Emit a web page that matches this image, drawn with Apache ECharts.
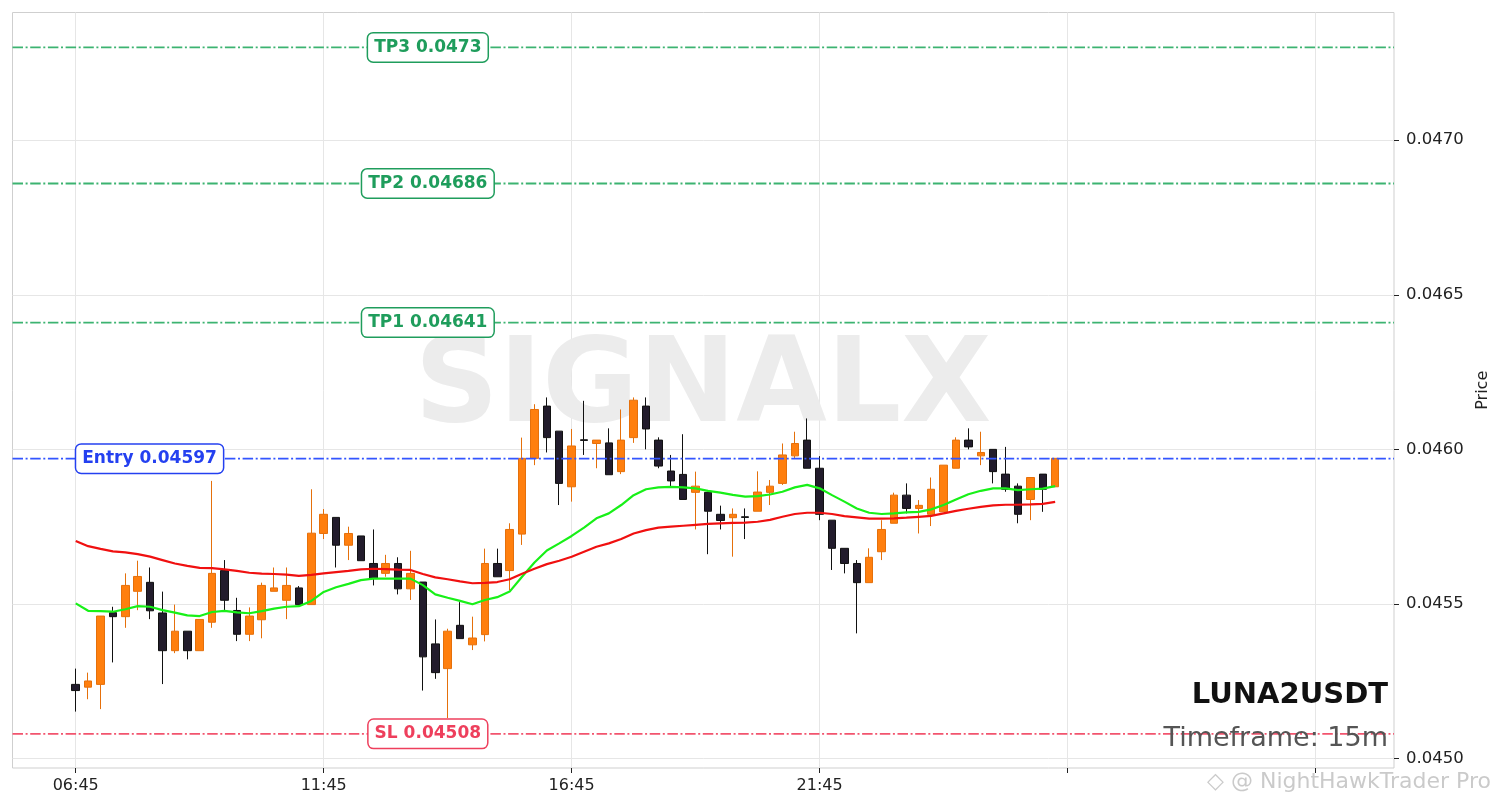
<!DOCTYPE html>
<html>
<head>
<meta charset="utf-8">
<script src="https://cdn.jsdelivr.net/npm/echarts@6/dist/echarts.min.js"></script>
<style>
  html, body { margin: 0; padding: 0; background: #fff; }
  #chart { width: 1501px; height: 808px; }
</style>
</head>
<body>
<div id="chart"></div>
<script>
// x axis: candle index, labelled every 20 bars (15m timeframe)
const timeLabels = ['06:45', '11:45', '16:45', '21:45']
const labelIndex = [0, 20, 40, 60]
const tickIndex = [0, 20, 40, 60, 80, 100]
const priceTicks = [0.0450, 0.0455, 0.0460, 0.0465, 0.0470]

// [open, high, low, close]
const candles = [
  [0.045240, 0.045291, 0.045152, 0.045220],
  [0.045231, 0.045278, 0.045192, 0.045251],
  [0.045240, 0.045461, 0.045160, 0.045461],
  [0.045472, 0.045491, 0.045311, 0.045459],
  [0.045459, 0.045599, 0.045423, 0.045560],
  [0.045541, 0.045640, 0.045480, 0.045589],
  [0.045570, 0.045618, 0.045451, 0.045478],
  [0.045471, 0.045540, 0.045241, 0.045349],
  [0.045349, 0.045498, 0.045341, 0.045412],
  [0.045412, 0.045412, 0.045321, 0.045349],
  [0.045349, 0.045450, 0.045349, 0.045450],
  [0.045441, 0.045898, 0.045423, 0.045599],
  [0.045608, 0.045642, 0.045480, 0.045512],
  [0.045479, 0.045520, 0.045380, 0.045402],
  [0.045402, 0.045489, 0.045380, 0.045461],
  [0.045449, 0.045569, 0.045389, 0.045560],
  [0.045541, 0.045618, 0.045541, 0.045552],
  [0.045512, 0.045618, 0.045451, 0.045560],
  [0.045552, 0.045558, 0.045498, 0.045498],
  [0.045498, 0.045871, 0.045498, 0.045729],
  [0.045728, 0.045807, 0.045710, 0.045790],
  [0.045780, 0.045780, 0.045618, 0.045690],
  [0.045690, 0.045750, 0.045642, 0.045728],
  [0.045720, 0.045720, 0.045640, 0.045640],
  [0.045631, 0.045741, 0.045560, 0.045582],
  [0.045599, 0.045659, 0.045588, 0.045631],
  [0.045631, 0.045651, 0.045531, 0.045549],
  [0.045549, 0.045672, 0.045513, 0.045599],
  [0.045571, 0.045571, 0.045220, 0.045329],
  [0.045371, 0.045450, 0.045258, 0.045278],
  [0.045291, 0.045420, 0.045131, 0.045412],
  [0.045431, 0.045506, 0.045388, 0.045388],
  [0.045368, 0.045459, 0.045351, 0.045390],
  [0.045401, 0.045679, 0.045379, 0.045631],
  [0.045631, 0.045679, 0.045588, 0.045588],
  [0.045608, 0.045761, 0.045545, 0.045741],
  [0.045726, 0.046038, 0.045691, 0.045971],
  [0.045971, 0.046146, 0.045949, 0.046129],
  [0.046140, 0.046168, 0.045990, 0.046038],
  [0.046059, 0.046059, 0.045820, 0.045890],
  [0.045879, 0.046066, 0.045831, 0.046011],
  [0.046031, 0.046157, 0.045982, 0.046029],
  [0.046019, 0.046030, 0.045939, 0.046030],
  [0.046021, 0.046068, 0.045918, 0.045918],
  [0.045928, 0.046129, 0.045920, 0.046030],
  [0.046038, 0.046168, 0.046021, 0.046159],
  [0.046140, 0.046168, 0.046000, 0.046066],
  [0.046030, 0.046039, 0.045939, 0.045946],
  [0.045930, 0.045982, 0.045881, 0.045898],
  [0.045919, 0.046049, 0.045838, 0.045838],
  [0.045861, 0.045928, 0.045741, 0.045881],
  [0.045861, 0.045861, 0.045661, 0.045800],
  [0.045790, 0.045818, 0.045741, 0.045770],
  [0.045779, 0.045809, 0.045653, 0.045790],
  [0.045782, 0.045809, 0.045710, 0.045780],
  [0.045800, 0.045929, 0.045800, 0.045862],
  [0.045861, 0.045901, 0.045820, 0.045881],
  [0.045890, 0.046019, 0.045885, 0.045982],
  [0.045979, 0.046057, 0.045971, 0.046019],
  [0.046030, 0.046100, 0.045939, 0.045939],
  [0.045939, 0.045978, 0.045771, 0.045790],
  [0.045771, 0.045771, 0.045610, 0.045680],
  [0.045680, 0.045680, 0.045599, 0.045631],
  [0.045631, 0.045642, 0.045405, 0.045569],
  [0.045569, 0.045680, 0.045569, 0.045651],
  [0.045669, 0.045771, 0.045642, 0.045741],
  [0.045761, 0.045860, 0.045761, 0.045852],
  [0.045852, 0.045890, 0.045793, 0.045809],
  [0.045809, 0.045836, 0.045728, 0.045819],
  [0.045790, 0.045909, 0.045752, 0.045871],
  [0.045798, 0.045949, 0.045798, 0.045949],
  [0.045939, 0.046039, 0.045939, 0.046030],
  [0.046030, 0.046068, 0.046000, 0.046008],
  [0.045979, 0.046057, 0.045949, 0.045990],
  [0.046000, 0.046000, 0.045890, 0.045928],
  [0.045920, 0.046008, 0.045863, 0.045871],
  [0.045881, 0.045890, 0.045761, 0.045790],
  [0.045838, 0.045909, 0.045771, 0.045909],
  [0.045920, 0.045920, 0.045798, 0.045871],
  [0.045879, 0.045971, 0.045879, 0.045971]
]

// moving averages
const emaFast = [
  0.045502, 0.045478, 0.045477, 0.045475, 0.045483, 0.045493, 0.045491, 0.045480, 0.045472, 0.045463,
  0.045461, 0.045474, 0.045478, 0.045473, 0.045470, 0.045477, 0.045485, 0.045491, 0.045493, 0.045510,
  0.045539, 0.045554, 0.045565, 0.045577, 0.045582, 0.045582, 0.045582, 0.045582, 0.045561, 0.045531,
  0.045520, 0.045510, 0.045499, 0.045513, 0.045522, 0.045540, 0.045588, 0.045634, 0.045673, 0.045696,
  0.045720, 0.045747, 0.045777, 0.045793, 0.045820, 0.045852, 0.045871, 0.045877, 0.045879, 0.045877,
  0.045874, 0.045866, 0.045860, 0.045853, 0.045847, 0.045849, 0.045854, 0.045863, 0.045877, 0.045885,
  0.045874, 0.045852, 0.045831, 0.045809, 0.045795, 0.045791, 0.045793, 0.045796, 0.045798, 0.045806,
  0.045820, 0.045838, 0.045855, 0.045866, 0.045874, 0.045874, 0.045868, 0.045871, 0.045873, 0.045881
]
const emaSlow = [
  0.045704, 0.045687, 0.045678, 0.045670, 0.045667, 0.045661, 0.045653, 0.045642, 0.045631, 0.045623,
  0.045617, 0.045616, 0.045612, 0.045607, 0.045601, 0.045598, 0.045597, 0.045595, 0.045591, 0.045594,
  0.045599, 0.045603, 0.045607, 0.045612, 0.045614, 0.045613, 0.045611, 0.045610, 0.045597, 0.045586,
  0.045580, 0.045573, 0.045567, 0.045568, 0.045571, 0.045580, 0.045598, 0.045614, 0.045629, 0.045640,
  0.045653, 0.045669, 0.045685, 0.045696, 0.045710, 0.045728, 0.045739, 0.045747, 0.045750, 0.045753,
  0.045756, 0.045759, 0.045761, 0.045762, 0.045763, 0.045766, 0.045772, 0.045782, 0.045791, 0.045795,
  0.045795, 0.045791, 0.045784, 0.045780, 0.045776, 0.045776, 0.045777, 0.045779, 0.045782, 0.045785,
  0.045793, 0.045801, 0.045808, 0.045814, 0.045819, 0.045821, 0.045821, 0.045822, 0.045824, 0.045830
]

const levelNames = ['TP3', 'TP2', 'TP1', 'Entry', 'SL']
const levelPrices = [0.0473, 0.04686, 0.04641, 0.04597, 0.04508]

const levelStyle = {
  TP3: { line: '#3cb371', text: '#1f9d5c', at: 28.4, pos: 'inside' },
  TP2: { line: '#3cb371', text: '#1f9d5c', at: 28.4, pos: 'inside' },
  TP1: { line: '#3cb371', text: '#1f9d5c', at: 28.4, pos: 'inside' },
  Entry: { line: '#3355ff', text: '#2440f0', at: 0, pos: 'right' },
  SL: { line: '#f2546e', text: '#ee3f5c', at: 28.4, pos: 'inside' }
}

const font = 'DejaVu Sans'
const xMin = -5.1
const xMax = 106.33
const chart = echarts.init(document.getElementById('chart'))

const candleData = candles.map((c, i) => [i, c[0], c[3], c[2], c[1]])
const fastData = emaFast.map((v, i) => [i, v])
const slowData = emaSlow.map((v, i) => [i, v])

// one horizontal series per trade level, spanning the whole x range
const levelSeries = levelNames.map((n, i) => ({
  type: 'line',
  name: n,
  data: [[xMin, levelPrices[i]], [xMax, levelPrices[i]]],
  symbol: 'none',
  silent: true,
  z: 4,
  lineStyle: { color: levelStyle[n].line, width: 1.9, type: [10.5, 2.6, 2, 2.6] }
}))

const option = {
  animation: false,
  backgroundColor: '#fff',
  textStyle: { fontFamily: font },
  grid: {
    left: 12.5, top: 12.5, right: 107, bottom: 40,
    show: true, borderColor: '#cfcfcf', borderWidth: 1
  },
  xAxis: {
    type: 'value',
    min: xMin,
    max: xMax,
    axisLine: { show: false, onZero: false },
    axisTick: { show: true, customValues: tickIndex, length: 5, lineStyle: { color: '#222' } },
    axisLabel: {
      customValues: labelIndex,
      margin: 10,
      fontSize: 16,
      color: '#222',
      fontFamily: font,
      formatter: v => {
        const k = labelIndex.indexOf(Math.round(v))
        return k >= 0 ? timeLabels[k] : ''
      }
    },
    splitLine: { show: true, lineStyle: { color: '#e6e6e6', width: 1 } }
  },
  yAxis: {
    type: 'value',
    position: 'right',
    min: 0.0449696,
    max: 0.0474128,
    name: 'Price',
    nameLocation: 'middle',
    nameRotate: 90,
    nameGap: 78,
    nameTextStyle: { fontSize: 16, color: '#222', fontFamily: font },
    axisLine: { show: false, onZero: false },
    axisTick: { show: true, customValues: priceTicks, length: 5, lineStyle: { color: '#222' } },
    axisLabel: {
      customValues: priceTicks,
      margin: 12,
      fontSize: 16.5,
      color: '#222',
      fontFamily: font,
      formatter: v => v.toFixed(4)
    },
    splitLine: { show: true, lineStyle: { color: '#e6e6e6', width: 1 } }
  },
  graphic: [
    {
      type: 'text', x: 703, y: 391, z: 1, silent: true,
      style: {
        text: 'SIGNALX', fontSize: 117, fontWeight: 'bold', fontFamily: font, fill: '#ececec',
        align: 'center', verticalAlign: 'middle'
      }
    },
    {
      type: 'text', right: 113, top: 681, z: 100, silent: true,
      style: { text: 'LUNA2USDT', fontSize: 29, fontWeight: 'bold', fontFamily: font, fill: '#111' }
    },
    {
      type: 'text', right: 113, top: 725, z: 100, silent: true,
      style: { text: 'Timeframe: 15m', fontSize: 27, fontFamily: font, fill: '#555' }
    },
    {
      type: 'text', right: 10, top: 771, z: 100, silent: true,
      style: { text: '\u25C7 @ NightHawkTrader Pro', fontSize: 22, fontFamily: font, fill: 'rgba(150,150,150,0.5)' }
    }
  ],
  series: [
    {
      type: 'candlestick',
      data: candleData,
      barWidth: 8,
      z: 3,
      itemStyle: {
        color: '#ff7f0e',
        color0: '#221c2c',
        borderColor: '#e5700b',
        borderColor0: '#111',
        borderWidth: 1
      },
      markPoint: {
        silent: true,
        symbol: 'rect',
        symbolSize: 1,
        z: 10,
        itemStyle: { color: 'rgba(0,0,0,0)' },
        data: levelNames.map((n, i) => ({
          coord: [levelStyle[n].at, levelPrices[i]],
          label: {
            show: true,
            position: levelStyle[n].pos,
            distance: 0,
            formatter: n + ' ' + levelPrices[i],
            color: levelStyle[n].text,
            fontWeight: 'bold',
            fontSize: 17,
            fontFamily: font,
            backgroundColor: '#fff',
            borderColor: levelStyle[n].text,
            borderWidth: 1.5,
            borderRadius: 5,
            padding: [6, 6, 5, 6]
          }
        }))
      }
    },
    ...levelSeries,
    {
      type: 'line',
      data: fastData,
      symbol: 'none',
      z: 5,
      lineStyle: { color: '#18f018', width: 2.2 }
    },
    {
      type: 'line',
      data: slowData,
      symbol: 'none',
      z: 5,
      lineStyle: { color: '#f01010', width: 2.2 }
    }
  ]
}

chart.setOption(option)
</script>
</body>
</html>
